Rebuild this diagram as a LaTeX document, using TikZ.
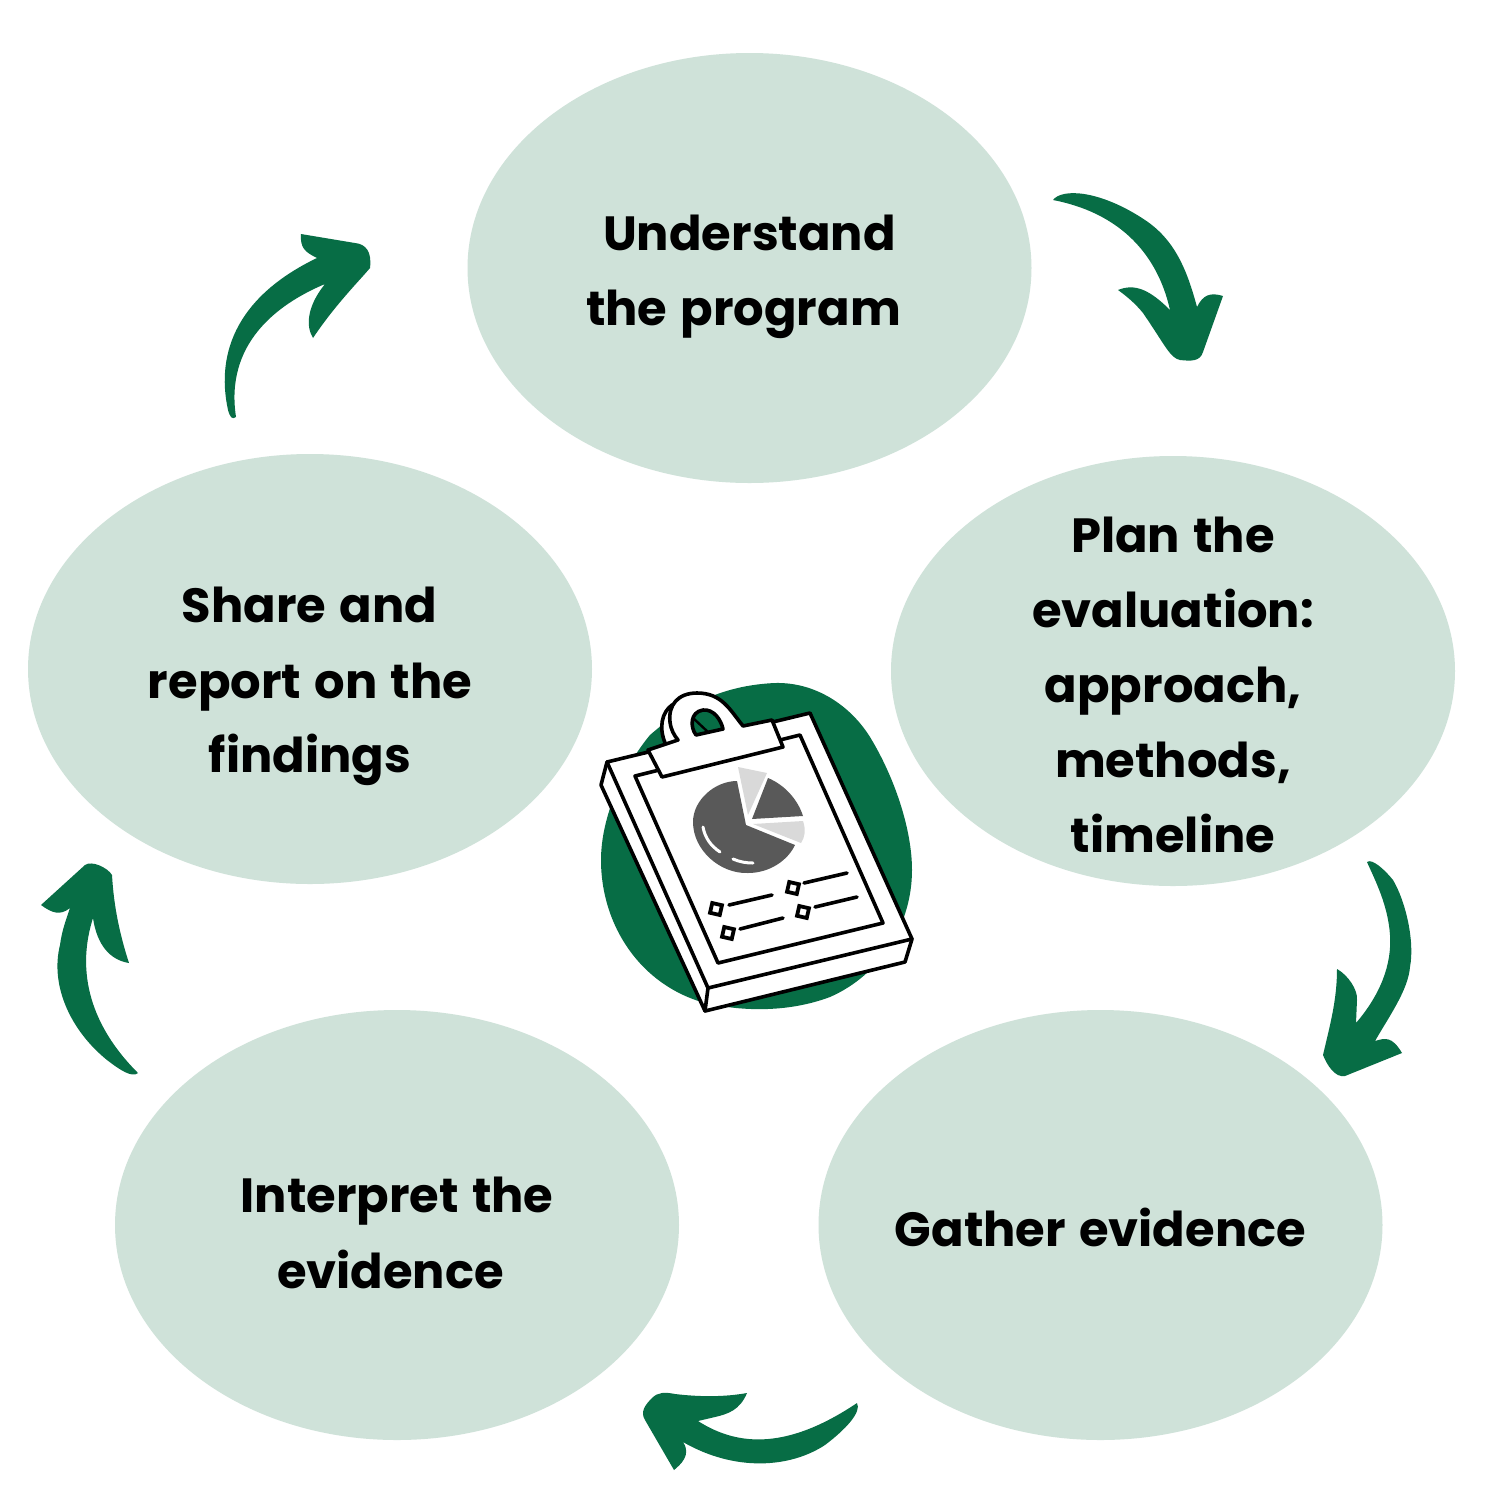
\documentclass[tikz,border=0pt]{standalone}
\usepackage{fontspec}
\setmainfont{Poppins}[WordSpace=1.3]
\usetikzlibrary{shapes.geometric}
\definecolor{pale}{HTML}{CFE2D9}
\definecolor{forest}{HTML}{076D45}
\definecolor{piedark}{HTML}{595959}
\definecolor{pielight}{HTML}{D9D9D9}
\tikzset{
  stage/.style={ellipse,fill=pale,inner sep=0pt,minimum width=282pt,minimum height=215pt},
  lbl/.style={anchor=base,inner sep=0pt,font=\fontsize{24}{24}\selectfont\bfseries,text=black},
  ink/.style={draw=black,line width=1.8pt,line join=round,line cap=round},
  boxy/.style={draw=black,line width=1.9pt,fill=white,rotate=-13,minimum size=5pt,inner sep=0pt},
  arrowshape/.style={fill=forest}
}
\begin{document}
\begin{tikzpicture}[x=0.5pt,y=-0.5pt]
\useasboundingbox (0,0) rectangle (1500,1500);
\fill[white] (0,0) rectangle (1500,1500);
% stages
\node[stage] (understand) at (749.5,268) {};
\node[stage] (plan) at (1173,671) {};
\node[stage] (share) at (310,669) {};
\node[stage] (gather) at (1100.5,1225) {};
\node[stage] (interpret) at (397,1225) {};
% labels
\node[lbl] (t1a) at (749.5,250) {Understand};
\node[lbl] (t1b) at (743.5,325.5) {the program};
\node[lbl] (t2a) at (1173,552.5) {Plan the};
\node[lbl] (t2b) at (1173,627.5) {evaluation:};
\node[lbl] (t2c) at (1173,702.5) {approach,};
\node[lbl] (t2d) at (1173,777.5) {methods,};
\node[lbl] (t2e) at (1173,852.5) {timeline};
\node[lbl] (t3a) at (1100.5,1246.5) {Gather evidence};
\node[lbl] (t4a) at (397,1212.5) {Interpret the};
\node[lbl] (t4b) at (390.5,1288) {evidence};
\node[lbl] (t5a) at (309.5,622.5) {Share and};
\node[lbl] (t5b) at (310,698.5) {report on the};
\node[lbl] (t5c) at (310,772.5) {findings};
% arrow 1
\fill[arrowshape] (1053,200) .. controls (1062,188) and (1100,190) .. (1145,220)
 .. controls (1175,240) and (1187,270) .. (1197,307)
 .. controls (1203,295) and (1210,292) .. (1223,296) -- (1203,352)
 .. controls (1200,362) and (1190,361) .. (1180,360)
 .. controls (1170,358) and (1165,345) .. (1143,313)
 .. controls (1135,303) and (1125,295) .. (1118,290)
 .. controls (1135,283) and (1150,290) .. (1170,310)
 .. controls (1160,265) and (1130,215) .. (1053,200) -- cycle;
% arrow 2
\fill[arrowshape] (1367,862) .. controls (1372,858) and (1385,870) .. (1393,880)
 .. controls (1405,900) and (1415,940) .. (1410,967)
 .. controls (1408,990) and (1390,1015) .. (1375,1041)
 .. controls (1385,1038) and (1392,1036) .. (1402,1053) -- (1345,1076)
 .. controls (1335,1078) and (1327,1065) .. (1323,1055)
 .. controls (1330,1025) and (1337,1000) .. (1337,969)
 .. controls (1348,975) and (1358,990) .. (1357,1000) -- (1356,1023)
 .. controls (1380,995) and (1392,965) .. (1390,935)
 .. controls (1388,905) and (1375,880) .. (1367,862) -- cycle;
% arrow 3
\fill[arrowshape] (857,1403) .. controls (862,1412) and (845,1430) .. (825,1445)
 .. controls (790,1468) and (735,1472) .. (683,1442)
 .. controls (692,1455) and (680,1465) .. (674,1470) -- (645,1420)
 .. controls (640,1412) and (645,1405) .. (652,1398)
 .. controls (658,1392) and (665,1392) .. (675,1394)
 .. controls (700,1397) and (725,1397) .. (747,1393)
 .. controls (740,1410) and (728,1414) .. (715,1417) -- (698,1421)
 .. controls (740,1448) and (790,1448) .. (857,1403) -- cycle;
% arrow 4
\fill[arrowshape] (138,1073) .. controls (132,1078) and (120,1070) .. (107,1060)
 .. controls (70,1030) and (50,985) .. (60,945)
 .. controls (62,930) and (66,920) .. (70,908)
 .. controls (60,916) and (52,913) .. (41,905) -- (85,865)
 .. controls (92,860) and (108,868) .. (112,875)
 .. controls (113,890) and (115,920) .. (129,963)
 .. controls (110,960) and (97,945) .. (93,918)
 .. controls (78,965) and (85,1020) .. (138,1073) -- cycle;
% arrow 5
\fill[arrowshape] (236,417) .. controls (232,420) and (230,417) .. (228,410)
 .. controls (215,350) and (240,295) .. (317,258)
 .. controls (305,252) and (300,248) .. (301,234) -- (355,243)
 .. controls (366,244) and (372,252) .. (370,268)
 .. controls (360,280) and (335,305) .. (313,338)
 .. controls (305,325) and (308,305) .. (325,284)
 .. controls (275,305) and (225,345) .. (236,417) -- cycle;
% blob
\fill[forest] (775,683) .. controls (815,682) and (850,705) .. (870,737)
 .. controls (895,778) and (912,830) .. (912,870)
 .. controls (912,925) and (880,975) .. (830,997)
 .. controls (790,1012) and (745,1012) .. (705,1003)
 .. controls (640,985) and (601,925) .. (601,860)
 .. controls (601,815) and (625,765) .. (650,735)
 .. controls (690,700) and (730,685) .. (775,683) -- cycle;
% clipboard
\draw[ink,fill=white] (607,762) -- (810,713) -- (912,939) -- (905,962) -- (705,1011) -- (601,785) -- cycle;
\draw[ink] (607,762) -- (708,988) -- (912,939);
\draw[ink] (708,988) -- (705,1011);
\draw[ink,fill=white] (635,776) -- (800,735) -- (883,923) -- (718,963) -- cycle;
% clip rear loop
\draw[ink,fill=white] (672,705) .. controls (662,712) and (658,728) .. (666,745) -- (680,745) -- (680,705) -- cycle;
% clip
\draw[ink,fill=white] (662,777) -- (783,747) -- (772,720) -- (743,726) .. controls (730,710) and (722,693) .. (697,693) .. controls (678,693) and (668,705) .. (670,722) .. controls (671,730) and (674,735) .. (678,740) -- (648,750) -- cycle;
\draw[ink,fill=forest] (696,735) .. controls (690,727) and (690,712) .. (703,710) .. controls (714,709) and (721,720) .. (723,729) -- cycle;
\draw[black,line width=1.2pt] (693,718) -- (708,732);
% pie
\fill[piedark] (737,781) -- (746,825) -- (795,845) .. controls (788,860) and (770,873) .. (748,873) .. controls (720,874) and (693,850) .. (693,822) .. controls (693,800) and (715,781) .. (737,781) -- cycle;
\fill[pielight] (738,767) -- (767,773) -- (748,815) -- cycle;
\fill[piedark] (752,819) -- (768,778) .. controls (785,785) and (798,800) .. (803,816) -- cycle;
\fill[pielight] (753,824) -- (803,821) .. controls (806,830) and (805,837) .. (801,843) -- cycle;
\draw[white,line width=1.5pt,line cap=round] (703,827) .. controls (705,838) and (711,846) .. (720,852);
\draw[white,line width=1.5pt,line cap=round] (733,859) .. controls (740,862) and (746,863) .. (753,863);
% checklist
\node[boxy] (c1) at (716,909) {};
\node[boxy] (c2) at (728,933) {};
\node[boxy] (c3) at (793,888) {};
\node[boxy] (c4) at (803,912) {};
\draw[ink] (729,905) -- (772,895);
\draw[ink] (740,929) -- (783,918);
\draw[ink] (804,883) -- (847,873);
\draw[ink] (815,907) -- (857,897);
\end{tikzpicture}
\end{document}
